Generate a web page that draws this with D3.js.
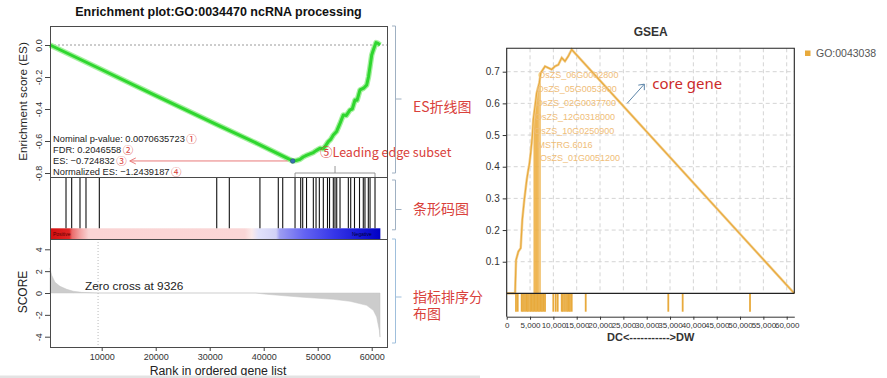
<!DOCTYPE html>
<html>
<head>
<meta charset="utf-8">
<script src="https://cdn.jsdelivr.net/npm/d3@7"></script>
<style>
  body { margin: 0; background: #fff; }
  svg { display: block; font-family: "Liberation Sans", Arial, sans-serif; }
</style>
</head>
<body>
<svg id="chart" width="887" height="378"></svg>
<script>
// ---------- left plot data (GO:0034470 ncRNA processing) ----------
const esRanks = [426, 9560, 20000, 31300, 39200, 45370, 46000, 46720, 47300, 47900, 48570, 49200, 49700, 50420, 51000,
    51350, 51960, 52400, 52890, 53500, 54130, 54740, 55300, 55980, 56400, 56910, 57300, 57830, 58500, 59070,
    59400, 59690, 60000, 60300, 60800, 61100, 61540];
const esValues = [0, -0.147, -0.316, -0.497, -0.622, -0.7248, -0.722, -0.715, -0.700, -0.690, -0.681, -0.672, -0.660, -0.646, -0.648,
    -0.635, -0.604, -0.590, -0.5625, -0.540, -0.490, -0.4375, -0.440, -0.406, -0.400, -0.344, -0.345, -0.281, -0.270, -0.250,
    -0.200, -0.135, -0.0625, -0.031, 0.015, 0.012, 0.0];
const esMin = { rank: 45370, es: -0.7248 };

const hitRanks = [3390, 4440, 5980, 7090, 9560, 31300, 33630, 39300, 42700, 43520, 45800, 46850, 47220, 47930, 49190,
    49690, 50300, 51040, 51810, 52190, 52890, 53200, 53520, 54130, 55670, 56110, 56810, 57740, 58440, 58750,
    59370, 59690, 60610];

const scoreRanks = [426, 740, 1350, 2280, 3520, 4740, 6300, 9326, 38500, 40550, 46720, 52890, 55980, 59070, 60300, 60920, 61410, 61540];
const scoreValues = [2.3, 1.62, 0.98, 0.61, 0.34, 0.16, 0.06, 0, 0, -0.12, -0.37, -0.58, -0.76, -1.13, -1.59, -2.2, -3.42, -4.04];
const zeroCross = 9326;

const barStopRanks = [426, 4000, 4500, 6000, 7600, 36500, 37800, 39000, 42300, 43000, 47500, 53000, 58700, 61600];
const barStopColors = ["#d40f0f", "#e02424", "#ea6a6a", "#f3a4a4", "#fad4d4", "#fad6d6", "#fbeaea", "#e2e2fa", "#d2d2f6", "#9c9cf2", "#6464f2", "#3636e8", "#1212d2", "#0000c4"];

const statLabels = ["Nominal p-value: 0.0070635723", "FDR: 0.2046558", "ES: \u22120.724832", "Normalized ES: \u22121.2439187"];
const statMarks = ["\u2460", "\u2461", "\u2462", "\u2463"];
const esTicks = [0, -0.2, -0.4, -0.6, -0.8];
const scoreTicks = [4, 2, 0, -2, -4];
const rankTicks = [10000, 20000, 30000, 40000, 50000, 60000];
const sideLabels = [["ES折线图"], ["条形码图"], ["指标排序分", "布图"]];

// ---------- right plot data (GSEA GO:0043038) ----------
const gseaRanks = [0, 1800, 2000, 2500, 3000, 3340, 3770, 4290, 4630, 4840, 5140, 5490, 5700, 6060, 6430,
    6990, 7290, 8210, 8910, 9640, 10350, 11060, 11790, 12490, 13200, 13930, 61630];
const gseaValues = [0, 0, 0.105, 0.132, 0.143, 0.232, 0.295, 0.358, 0.39, 0.406, 0.443, 0.496, 0.549, 0.59, 0.633,
    0.665, 0.696, 0.717, 0.712, 0.707, 0.717, 0.722, 0.744, 0.733, 0.749, 0.77, 0];
const gseaHits = [1990, 2360, 3210, 3500, 3920, 4290, 4570, 5000, 5310, 5640, 5960, 6280, 6600, 6920, 7240,
    7560, 7890, 8210, 9990, 10500, 10930, 11790, 12060, 12490, 12920, 13240, 13560, 13930, 16930, 34630,
    37710, 52140];
const coreGenes = ["OsZS_06G0002800", "OsZS_05G0053800", "OsZS_02G0037700", "OsZS_12G0318000", "OsZS_10G0250900", "MSTRG.6016", "OsZS_01G0051200"];
const coreRanks = [6780, 6430, 6280, 6060, 5900, 6600, 7140];
const gseaYTicks = [0.1, 0.2, 0.3, 0.4, 0.5, 0.6, 0.7];
const gseaXTicks = d3.range(0, 60001, 5000);

const svg = d3.select("#chart");
const red = "#d9413b";

// ================= LEFT =================
const L = { x0: 50, x1: 387, esTop: 26, esBot: 177, barTop: 177, colTop: 228.3, barBot: 239, scoreBot: 347 };
const xL = d3.scaleLinear().domain([426, 62830]).range([L.x0, L.x1]);
const yES = d3.scaleLinear().domain([-0.8, 0]).range([173, 45]);
const yScore = d3.scaleLinear().domain([-4, 4]).range([336.7, 249.3]);

svg.append("text")
    .attr("x", 218.5).attr("y", 16)
    .attr("text-anchor", "middle")
    .style("font-weight", "bold").style("font-size", "12.5px")
    .attr("fill", "#111")
    .text("Enrichment plot:GO:0034470 ncRNA processing");

// zero line in ES panel
svg.append("line")
    .attr("x1", L.x0).attr("x2", L.x1)
    .attr("y1", yES(0)).attr("y2", yES(0))
    .attr("stroke", "#9a9a9a").attr("stroke-dasharray", "2,2");

const esLine = d3.line().x((d, i) => xL(esRanks[i])).y(d => yES(d));
svg.append("path").datum(esValues)
    .attr("fill", "none").attr("stroke", "#a6f0a0").attr("stroke-width", 5.5)
    .attr("stroke-linejoin", "round").attr("d", esLine);
svg.append("path").datum(esValues)
    .attr("fill", "none").attr("stroke", "#2fd62f").attr("stroke-width", 3)
    .attr("stroke-linejoin", "round").attr("d", esLine);

svg.append("circle")
    .attr("cx", xL(esMin.rank)).attr("cy", yES(esMin.es)).attr("r", 2.3)
    .attr("fill", "#3b70b0").attr("stroke", "#27507f").attr("stroke-width", 0.6);

// stats text
let statEnds = [];
statLabels.forEach((s, i) => {
    const t = svg.append("text")
        .attr("x", 53).attr("y", 142.4 + i * 11)
        .style("font-size", "9.3px").attr("fill", "#222")
        .text(s);
    const w = t.node().getComputedTextLength();
    statEnds.push(53 + w);
    svg.append("text")
        .attr("x", 53 + w + 1.5).attr("y", 143 + i * 11)
        .style("font-family", "'Noto Sans CJK SC'").style("font-size", "10.5px")
        .attr("fill", red)
        .text(statMarks[i]);
});

// arrow from min point to ES text
const arrowY = yES(esMin.es);
const arrowEnd = statEnds[2] + 15;
svg.append("line")
    .attr("x1", xL(esMin.rank) - 5).attr("x2", arrowEnd)
    .attr("y1", arrowY).attr("y2", arrowY)
    .attr("stroke", "#e87a7a").attr("stroke-width", 1);
svg.append("path")
    .attr("d", `M${arrowEnd + 6},${arrowY - 3} L${arrowEnd},${arrowY} L${arrowEnd + 6},${arrowY + 3}`)
    .attr("fill", "none").attr("stroke", "#e87a7a").attr("stroke-width", 1);

// leading edge bracket
const leX0 = xL(hitRanks[10]), leX1 = xL(hitRanks[hitRanks.length - 1]);
const leMid = (leX0 + leX1) / 2;
svg.append("path")
    .attr("d", `M${leX0},${L.esBot} V173 H${leX1} V${L.esBot} M${leMid},173 V166`)
    .attr("fill", "none").attr("stroke", "#8a8a8a").attr("stroke-width", 0.9);
svg.append("text")
    .attr("x", leMid - 15).attr("y", 157)
    .style("font-family", "'Noto Sans CJK SC'").style("font-size", "12.5px")
    .attr("fill", red)
    .text("\u2464Leading edge subset");

// colour bar
const grad = svg.append("defs").append("linearGradient")
    .attr("id", "rankGrad").attr("x1", "0%").attr("x2", "100%");
const barX0 = xL(barStopRanks[0]), barX1 = xL(barStopRanks[barStopRanks.length - 1]);
barStopRanks.forEach((r, i) => {
    grad.append("stop")
        .attr("offset", ((xL(r) - barX0) / (barX1 - barX0) * 100) + "%")
        .attr("stop-color", barStopColors[i]);
});
svg.append("rect")
    .attr("x", barX0).attr("y", L.colTop)
    .attr("width", barX1 - barX0).attr("height", L.barBot - L.colTop)
    .attr("fill", "url(#rankGrad)");
svg.append("text").attr("x", 53).attr("y", 235.5)
    .style("font-size", "5px").attr("fill", "#5a0000").text("Positive");
svg.append("text").attr("x", 352).attr("y", 235.5)
    .style("font-size", "5px").attr("fill", "#000033").text("Negative");

// barcode
svg.selectAll(".hit").data(hitRanks).join("line")
    .attr("class", "hit")
    .attr("x1", d => xL(d)).attr("x2", d => xL(d))
    .attr("y1", L.barTop).attr("y2", L.colTop)
    .attr("stroke", "#111").attr("stroke-width", 1.1);

// score panel
const scoreArea = d3.area()
    .x((d, i) => xL(scoreRanks[i]))
    .y0(yScore(0))
    .y1(d => yScore(d));
svg.append("path").datum(scoreValues)
    .attr("fill", "#cccccc").attr("stroke", "#c4c4c4").attr("stroke-width", 0.5)
    .attr("d", scoreArea);
svg.append("line")
    .attr("x1", xL(zeroCross)).attr("x2", xL(zeroCross))
    .attr("y1", L.barBot).attr("y2", L.scoreBot)
    .attr("stroke", "#bbbbbb").attr("stroke-dasharray", "1,2");
svg.append("text")
    .attr("x", 85).attr("y", 290)
    .style("font-size", "11.8px").attr("fill", "#222")
    .text("Zero cross at " + zeroCross);

// panel boxes
[[L.esTop, L.esBot], [L.barTop, L.barBot], [L.barBot, L.scoreBot]].forEach(p => {
    svg.append("rect")
        .attr("x", L.x0 + 0.5).attr("y", p[0] + 0.5)
        .attr("width", L.x1 - L.x0).attr("height", p[1] - p[0])
        .attr("fill", "none").attr("stroke", "#4a4a4a").attr("stroke-width", 1);
});

// axes
const esAxis = svg.append("g")
    .attr("transform", `translate(${L.x0},0)`)
    .call(d3.axisLeft(yES).tickValues(esTicks).tickSize(5)
        .tickFormat(d => d3.format(".1f")(d).replace("\u2212", "-")));
const scoreAxis = svg.append("g")
    .attr("transform", `translate(${L.x0},0)`)
    .call(d3.axisLeft(yScore).tickValues(scoreTicks).tickSize(5)
        .tickFormat(d => String(d)));
[esAxis, scoreAxis].forEach(g => {
    g.select(".domain").remove();
    g.selectAll("line").attr("stroke", "#444");
    g.selectAll("text")
        .attr("transform", "rotate(-90)")
        .attr("x", 0).attr("y", -8).attr("dy", 0)
        .attr("text-anchor", "middle")
        .style("font-size", "9px").attr("fill", "#333")
        .style("font-family", "'Liberation Sans', Arial, sans-serif");
});
const rankAxis = svg.append("g")
    .attr("transform", `translate(0,${L.scoreBot})`)
    .call(d3.axisBottom(xL).tickValues(rankTicks).tickSize(4).tickFormat(d3.format("d")));
rankAxis.select(".domain").remove();
rankAxis.selectAll("line").attr("stroke", "#444");
rankAxis.selectAll("text").style("font-size", "9px").attr("fill", "#333")
    .style("font-family", "'Liberation Sans', Arial, sans-serif");

svg.append("text")
    .attr("x", 218).attr("y", 375)
    .attr("text-anchor", "middle").style("font-size", "12.3px").attr("fill", "#222")
    .text("Rank in ordered gene list");
svg.append("text")
    .attr("transform", `translate(27,${(L.esTop + L.esBot) / 2}) rotate(-90)`)
    .attr("text-anchor", "middle").style("font-size", "11.8px").attr("fill", "#222")
    .text("Enrichment score (ES)");
svg.append("text")
    .attr("transform", `translate(27,292) rotate(-90)`)
    .attr("text-anchor", "middle").style("font-size", "12px").attr("fill", "#222")
    .text("SCORE");

// side brackets + chinese labels
const brackets = [[L.esTop, 173, 99], [180, L.colTop + 1.5, 209.5], [L.barBot, 343, 297]];
const labelY = [112, 214, 302];
brackets.forEach((b, i) => {
    svg.append("path")
        .attr("d", `M392,${b[0]} H395.5 V${b[1]} H392 M395.5,${b[2]} H401.5`)
        .attr("fill", "none").attr("stroke", i === 2 ? "#9fbfdc" : "#9fb0c2").attr("stroke-width", 1);
    sideLabels[i].forEach((s, j) => {
        svg.append("text")
            .attr("x", 413).attr("y", labelY[i] + j * 16.5)
            .style("font-family", "'Noto Sans CJK SC'").style("font-size", "14px")
            .attr("fill", red)
            .text(s);
    });
});

svg.append("rect").attr("x", 0).attr("y", 375.5).attr("width", 480).attr("height", 2.5).attr("fill", "#e3e3e3");

// ================= RIGHT =================
const R = { x0: 506.7, x1: 794.3, top: 48.3, base: 293.4, hitBot: 311.7, axisY: 316.7 };
const xR = d3.scaleLinear().domain([0, 61630]).range([R.x0, R.x1]);
const yR = d3.scaleLinear().domain([0, 0.7]).range([R.base, 71.7]);
const orange = "#e8aa3c";

svg.append("text")
    .attr("x", 650.7).attr("y", 36)
    .attr("text-anchor", "middle").style("font-weight", "bold").style("font-size", "12px")
    .attr("fill", "#333").text("GSEA");

// grid
svg.selectAll(".gy").data(gseaYTicks).join("line")
    .attr("class", "gy")
    .attr("x1", R.x0).attr("x2", R.x1)
    .attr("y1", d => yR(d)).attr("y2", d => yR(d))
    .attr("stroke", "#d4d4d4").attr("stroke-dasharray", "4,3");
svg.selectAll(".gx").data(gseaXTicks.slice(1)).join("line")
    .attr("class", "gx")
    .attr("x1", d => xR(d)).attr("x2", d => xR(d))
    .attr("y1", R.top).attr("y2", R.base)
    .attr("stroke", "#d4d4d4").attr("stroke-dasharray", "4,3");

// core gene stems
const interp = r => {
    const i = d3.bisectRight(gseaRanks, r) - 1;
    const t = (r - gseaRanks[i]) / (gseaRanks[i + 1] - gseaRanks[i]);
    return gseaValues[i] + t * (gseaValues[i + 1] - gseaValues[i]);
};
svg.selectAll(".core").data(coreRanks).join("line")
    .attr("class", "core")
    .attr("x1", d => xR(d)).attr("x2", d => xR(d))
    .attr("y1", R.base).attr("y2", d => yR(interp(d)))
    .attr("stroke", "#eeb24a").attr("stroke-opacity", 0.75).attr("stroke-width", 1.8);

// ES curve
svg.append("path").datum(gseaValues)
    .attr("fill", "none").attr("stroke", "#f3d29a").attr("stroke-width", 2.6)
    .attr("d", d3.line().x((d, i) => xR(gseaRanks[i])).y(d => yR(d)));
svg.append("path").datum(gseaValues)
    .attr("fill", "none").attr("stroke", orange).attr("stroke-width", 1.2)
    .attr("d", d3.line().x((d, i) => xR(gseaRanks[i])).y(d => yR(d)));

// core gene labels
svg.selectAll(".coreLab").data(coreGenes).join("text")
    .attr("class", "coreLab")
    .attr("x", (d, i) => xR(coreRanks[i]))
    .attr("y", (d, i) => 78 + i * 13.9)
    .style("font-size", "9px").attr("fill", "#efbd78")
    .text(d => d);

// hits
svg.selectAll(".ghit").data(gseaHits).join("line")
    .attr("class", "ghit")
    .attr("x1", d => xR(d)).attr("x2", d => xR(d))
    .attr("y1", R.base).attr("y2", R.hitBot)
    .attr("stroke", orange).attr("stroke-width", 1.8);

// frame
svg.append("path")
    .attr("d", `M${R.x0},${R.axisY} V${R.top} H${R.x1} V${R.base} M${R.x0},${R.base} H${R.x1}`)
    .attr("fill", "none").attr("stroke", "#222").attr("stroke-width", 1.1);

const gy = svg.append("g")
    .attr("transform", `translate(${R.x0},0)`)
    .call(d3.axisLeft(yR).tickValues(gseaYTicks).tickSize(4).tickPadding(3).tickFormat(d3.format(".1f")));
gy.select(".domain").remove();
gy.selectAll("text").style("font-size", "10px").attr("fill", "#333")
    .style("font-family", "'Liberation Sans', Arial, sans-serif");
gy.selectAll("line").attr("stroke", "#333");

const gx = svg.append("g")
    .attr("transform", `translate(0,${R.axisY})`)
    .call(d3.axisBottom(xR).tickValues(gseaXTicks).tickSize(3).tickSizeOuter(0).tickFormat(d3.format(",")));
gx.selectAll("text").style("font-size", "8px").attr("fill", "#333")
    .style("font-family", "'Liberation Sans', Arial, sans-serif");
gx.selectAll("line, path").attr("stroke", "#333");

svg.append("text")
    .attr("x", 650.7).attr("y", 340.5)
    .attr("text-anchor", "middle").style("font-weight", "bold").style("font-size", "11px")
    .attr("fill", "#333").text("DC<----------->DW");

// legend
svg.append("rect").attr("x", 805).attr("y", 50.5).attr("width", 5.5).attr("height", 5.5).attr("fill", orange);
svg.append("text").attr("x", 816).attr("y", 57)
    .style("font-size", "10.5px").attr("fill", "#555").text("GO:0043038");

// core gene annotation
const annRank = 25200;
const ax0 = xR(annRank) + 3, ay0 = yR(interp(annRank)) - 4;
svg.append("line")
    .attr("x1", ax0).attr("y1", ay0).attr("x2", ax0 + 17).attr("y2", ay0 - 19)
    .attr("stroke", "#5b84a8").attr("stroke-width", 1);
svg.append("path")
    .attr("d", `M${ax0 + 11},${ay0 - 18} L${ax0 + 17},${ay0 - 19} L${ax0 + 17},${ay0 - 13}`)
    .attr("fill", "none").attr("stroke", "#5b84a8").attr("stroke-width", 1);
svg.append("text")
    .attr("x", ax0 + 25).attr("y", ay0 - 14)
    .style("font-family", "'Noto Sans'").style("font-size", "15px")
    .attr("fill", "#cc2a2a").text("core gene");
</script>
</body>
</html>
